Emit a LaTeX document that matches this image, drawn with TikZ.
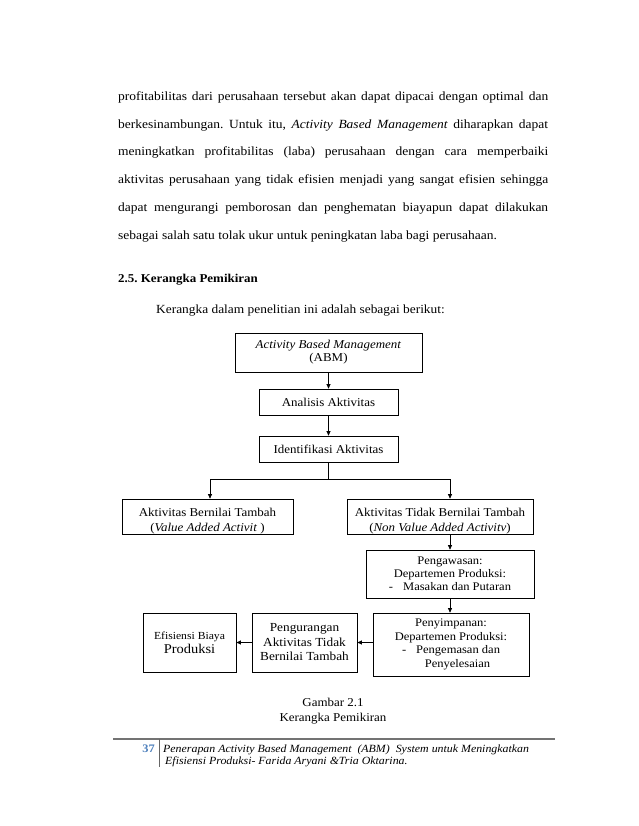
\documentclass[tikz,border=0pt]{standalone}
\usepackage{fontspec}
\setmainfont[FakeStretch=1.08]{Liberation Serif}
\usetikzlibrary{arrows.meta,positioning}
\definecolor{numblue}{RGB}{79,129,189}
\begin{document}
\frenchspacing
\begin{tikzpicture}[x=1pt,y=-1pt,
  box/.style={draw, line width=0.7pt, inner sep=0pt, align=center},
  boxfont/.style={font=\fontsize{12}{13}\selectfont},
  body/.style={anchor=base west, inner sep=0pt, font=\fontsize{12.5}{14}\selectfont},
  arr/.style={line width=0.7pt, -{Triangle[length=4.5pt,width=4pt]}},
  ln/.style={line width=0.7pt}]
\useasboundingbox[fill=white] (0,0) rectangle (638,826);

% body text
\node[body] (l1) at (118,100.5) {\makebox[430pt][s]{profitabilitas dari perusahaan tersebut akan dapat dipacai dengan optimal dan}};
\node[body] (l2) at (118,128.3) {\makebox[430pt][s]{berkesinambungan. Untuk itu, \textit{Activity Based Management} diharapkan dapat}};
\node[body] (l3) at (118,156) {\makebox[430pt][s]{meningkatkan profitabilitas (laba) perusahaan dengan cara memperbaiki}};
\node[body] (l4) at (118,183.8) {\makebox[430pt][s]{aktivitas perusahaan yang tidak efisien menjadi yang sangat efisien sehingga}};
\node[body] (l5) at (118,211.6) {\makebox[430pt][s]{dapat mengurangi pemborosan dan penghematan biayapun dapat dilakukan}};
\node[body] (l6) at (118,239.4) {sebagai salah satu tolak ukur untuk peningkatan laba bagi perusahaan.};
\node[body, font=\fontsize{12}{14}\selectfont\bfseries] (head) at (118,282) {2.5. Kerangka Pemikiran};
\node[body, font=\fontsize{12.4}{14}\selectfont] (intro) at (156,313) {Kerangka dalam penelitian ini adalah sebagai berikut:};

% boxes
\node[box, boxfont, minimum width=187pt, minimum height=39pt] (abm) at (328.5,352.5) {\textit{Activity Based Management}\\(ABM)};
\node[box, boxfont, minimum width=139pt, minimum height=26pt] (ana) at (328.5,402) {Analisis Aktivitas};
\node[box, boxfont, minimum width=139pt, minimum height=26pt] (idf) at (328.5,449) {Identifikasi Aktivitas};

\node[box, minimum width=171pt, minimum height=35pt] (vab) at (207.5,516.5) {};
\node[box, minimum width=186pt, minimum height=35pt] (nva) at (440,516.5) {};
\begin{scope}
\clip (vab.south west) rectangle (vab.north east);
\node[font=\fontsize{12}{15}\selectfont, align=center, inner sep=0pt, anchor=base] (vabt) at (207.5,531) {Aktivitas Bernilai Tambah\\(\textit{Value Added Activit })};
\end{scope}
\begin{scope}
\clip (nva.south west) rectangle (nva.north east);
\node[font=\fontsize{12}{15}\selectfont, align=center, inner sep=0pt, anchor=base] (nvat) at (440,531) {Aktivitas Tidak Bernilai Tambah\\(\textit{Non Value Added Activitv})};
\end{scope}

\node[box, font=\fontsize{11.6}{13}\selectfont, minimum width=168pt, minimum height=48pt] (paw) at (450,574) {Pengawasan:\\Departemen Produksi:\\-\hspace{10pt}Masakan dan Putaran};
\node[box, font=\fontsize{11.6}{13.7}\selectfont, minimum width=156pt, minimum height=63pt] (pny) at (451,644.5) {Penyimpanan:\\Departemen Produksi:\\-\hspace{10pt}Pengemasan dan\\\hspace*{13pt}Penyelesaian};
\node[box, font=\fontsize{12.3}{14.5}\selectfont, minimum width=105pt, minimum height=59pt] (pgr) at (304.5,642.5) {Pengurangan\\Aktivitas Tidak\\Bernilai Tambah};
\node[box, font=\fontsize{13.4}{14}\selectfont, minimum width=93pt, minimum height=59pt] (efi) at (189.5,642.5) {{\fontsize{10.8}{14}\selectfont Efisiensi Biaya}\\Produksi};

% connectors
\draw[arr] (abm.south) -- (ana.north);
\draw[arr] (ana.south) -- (idf.north);
\coordinate (jL) at (210,479);
\coordinate (jR) at (450,479);
\draw[ln] (idf.south) -- (idf.south |- jL);
\draw[ln] (jL) -- (jR);
\draw[arr] (jL) -- (jL |- vab.north);
\draw[arr] (jR) -- (jR |- nva.north);
\draw[arr] (paw.north |- nva.south) -- (paw.north);
\draw[arr] (paw.south) -- (paw.south |- pny.north);
\draw[arr] (pgr.east -| pny.west) -- (pgr.east);
\draw[arr] (pgr.west) -- (efi.east);

% caption
\node[anchor=base, inner sep=0pt, font=\fontsize{12}{14}\selectfont] (cap1) at (333,706) {Gambar 2.1};
\node[anchor=base, inner sep=0pt, font=\fontsize{12}{14}\selectfont] (cap2) at (333,721) {Kerangka Pemikiran};

% footer
\coordinate (rl) at (113,739);
\coordinate (rr) at (555,739);
\coordinate (vt) at (159,739);
\coordinate (vb) at (159,767);
\draw[line width=1.8pt, black!55] (rl) -- (rr);
\draw[line width=0.9pt, black!60] (vt) -- (vb);
\node[anchor=base east, inner sep=0pt, font=\fontsize{11.5}{13}\selectfont\bfseries, text=numblue] (pg) at (155,752) {37};
\node[anchor=base west, inner sep=0pt, font=\fontsize{11}{13}\selectfont\itshape] (f1) at (163,752) {Penerapan Activity Based Management\ \ (ABM)\ \ System untuk Meningkatkan};
\node[anchor=base west, inner sep=0pt, font=\fontsize{11}{13}\selectfont\itshape] (f2) at (165,764) {Efisiensi Produksi- Farida Aryani \&Tria Oktarina.};
\end{tikzpicture}
\end{document}
